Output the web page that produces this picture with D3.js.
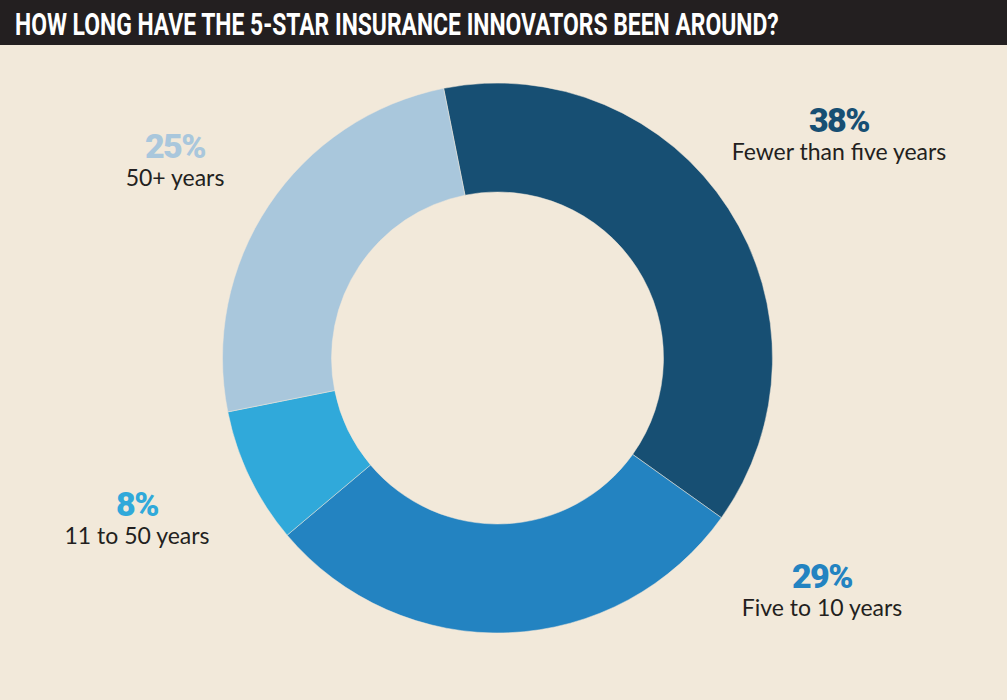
<!DOCTYPE html>
<html>
<head>
<meta charset="utf-8">
<script src="https://cdn.jsdelivr.net/npm/d3@7"></script>
<style>
  html, body { margin: 0; padding: 0; background: #f2e9da; }
  svg { display: block; }
</style>
</head>
<body>
<div class="viz"></div>
<script>
// data
var categories = ["Fewer than five years", "Five to 10 years", "11 to 50 years", "50+ years"];
var values = [38, 29, 8, 25];
var colors = ["#174f73", "#2383c1", "#30a9da", "#a9c7dc"];
var title = "HOW LONG HAVE THE 5-STAR INSURANCE INNOVATORS BEEN AROUND?";

var width = 1007, height = 700;
var cx = 497.5, cy = 358;
var outerR = 275, innerR = 166;
var startAngle = -11.3 * Math.PI / 180;

// label anchor spots (x centre, y of percent baseline)
var labelPos = [[839, 132], [822, 588], [137, 516], [175, 158]];

var svg = d3.select(".viz").append("svg").attr("width", width).attr("height", height);

svg.append("rect").attr("width", width).attr("height", height).attr("fill", "#f2e9da");

// title bar, squeezed horizontally to look condensed
svg.append("rect").attr("width", width).attr("height", 45).attr("fill", "#231f20");
var titleText = svg.append("text")
  .attr("x", 0)
  .attr("y", 0)
  .attr("fill", "#ffffff")
  .attr("font-family", "Roboto, 'Liberation Sans', sans-serif")
  .attr("font-weight", 700)
  .attr("font-size", 31)
  .text(title);
var tw = titleText.node().getComputedTextLength();
var sx = 764 / tw;
titleText.attr("transform", "translate(15,35) scale(" + sx + ",1)");

var data = categories.map(function (c, i) { return { name: c, value: values[i], color: colors[i] }; });

var pie = d3.pie()
  .value(function (d) { return d.value; })
  .sort(null)
  .startAngle(startAngle)
  .endAngle(startAngle + 2 * Math.PI);

var arc = d3.arc().innerRadius(innerR).outerRadius(outerR);

var g = svg.append("g").attr("transform", "translate(" + cx + "," + cy + ")");

g.selectAll("path")
  .data(pie(data))
  .enter()
  .append("path")
  .attr("d", arc)
  .attr("fill", function (d) { return d.data.color; })
  .attr("stroke", "#f2e9da")
  .attr("stroke-width", 0.5);

var labels = svg.append("g");
data.forEach(function (d, i) {
  var p = labelPos[i];
  labels.append("text")
    .attr("x", p[0])
    .attr("y", p[1])
    .attr("text-anchor", "middle")
    .attr("fill", d.color)
    .attr("font-family", "Roboto, 'Liberation Sans', sans-serif")
    .attr("font-weight", 900)
    .attr("font-size", 34)
    .attr("letter-spacing", -1.5)
    .text(d.value + "%");
  labels.append("text")
    .attr("x", p[0])
    .attr("y", p[1] + 28)
    .attr("text-anchor", "middle")
    .attr("fill", "#231f20")
    .attr("font-family", "Lato, 'Liberation Sans', sans-serif")
    .attr("font-size", 23)
    .text(d.name);
});
</script>
</body>
</html>
